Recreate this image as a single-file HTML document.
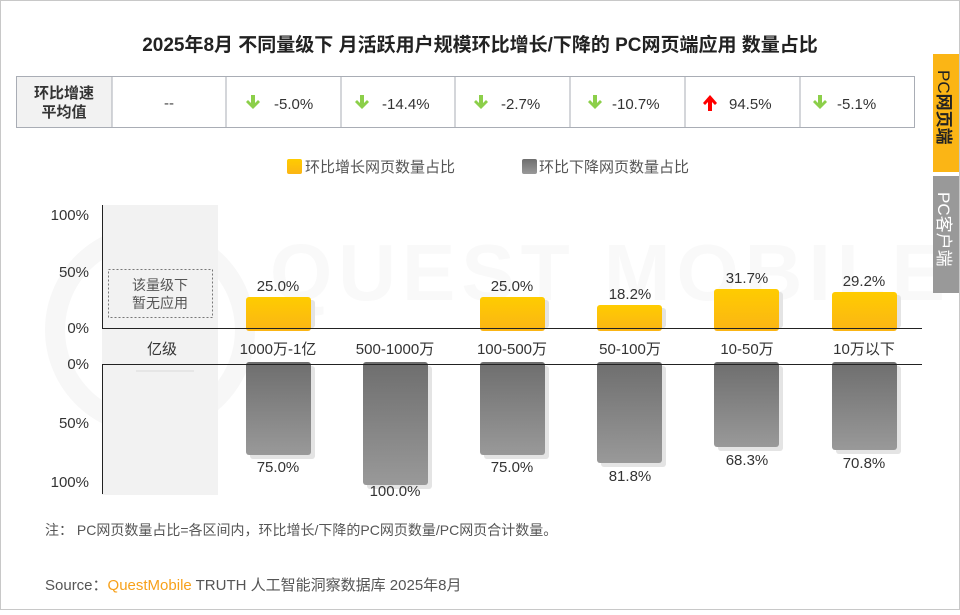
<!DOCTYPE html>
<html><head><meta charset="utf-8"><style>
body{margin:0;width:960px;height:610px;overflow:hidden;background:#fff;font-family:"Liberation Sans","Noto Sans CJK SC",sans-serif;}
</style></head><body>
<svg width="960" height="610" xmlns="http://www.w3.org/2000/svg" font-family="Liberation Sans, Noto Sans CJK SC, sans-serif">
<defs>
<linearGradient id="y" x1="0" y1="0" x2="0" y2="1"><stop offset="0" stop-color="#ffcc00"/><stop offset="1" stop-color="#fbb515"/></linearGradient>
<linearGradient id="g" x1="0" y1="0" x2="0" y2="1"><stop offset="0" stop-color="#6e6e6e"/><stop offset="1" stop-color="#999"/></linearGradient>
</defs>
<rect x="0.5" y="0.5" width="959" height="609" fill="#fff" stroke="#c8c8c8"/>
<!-- watermark -->
<g fill="none" stroke="#f7f7f7" stroke-width="20">
<circle cx="150" cy="330" r="95"/>
</g>
<text x="270" y="300" font-size="80" fill="#f9f9f9" font-weight="bold" letter-spacing="6">QUEST MOBILE</text>
<text x="480" y="51" font-size="19" text-anchor="middle" fill="#222" font-weight="bold">2025年8月 不同量级下 月活跃用户规模环比增长/下降的 PC网页端应用 数量占比</text>
<!-- table -->
<rect x="16" y="76" width="96" height="51" fill="#f2f2f2"/>
<rect x="16.5" y="76.5" width="898" height="51" fill="none" stroke="#a9adb5"/>
<g stroke="#a9adb5"><line x1="112" y1="76" x2="112" y2="127"/><line x1="226" y1="76" x2="226" y2="127"/><line x1="341" y1="76" x2="341" y2="127"/><line x1="455" y1="76" x2="455" y2="127"/><line x1="570" y1="76" x2="570" y2="127"/><line x1="685" y1="76" x2="685" y2="127"/><line x1="800" y1="76" x2="800" y2="127"/></g>
<text x="64" y="98" font-size="15" text-anchor="middle" fill="#333" font-weight="bold">环比增速</text>
<text x="64" y="117" font-size="15" text-anchor="middle" fill="#333" font-weight="bold">平均值</text>
<text x="169" y="108" font-size="15" text-anchor="middle" fill="#444">--</text>
<g font-size="15" fill="#333">
<text x="274" y="109">-5.0%</text><text x="382" y="109">-14.4%</text><text x="501" y="109">-2.7%</text><text x="612" y="109">-10.7%</text><text x="729" y="109">94.5%</text><text x="837" y="109">-5.1%</text>
</g>
<g fill="#8ccf4a">
<path d="M251 95h4v8l3-3 2 2-7 7-7-7 2-2 3 3z"/><path d="M360 95h4v8l3-3 2 2-7 7-7-7 2-2 3 3z"/><path d="M479 95h4v8l3-3 2 2-7 7-7-7 2-2 3 3z"/><path d="M593 95h4v8l3-3 2 2-7 7-7-7 2-2 3 3z"/><path d="M818 95h4v8l3-3 2 2-7 7-7-7 2-2 3 3z"/>
</g>
<path d="M708 111h4v-9l3 3 2-2-7-8-7 8 2 2 3-3z" fill="#f00"/>
<!-- legend -->
<rect x="287" y="159" width="15" height="15" rx="2" fill="url(#y)"/>
<text x="305" y="172" font-size="15" fill="#555">环比增长网页数量占比</text>
<rect x="522" y="159" width="15" height="15" rx="2" fill="url(#g)"/>
<text x="539" y="172" font-size="15" fill="#555">环比下降网页数量占比</text>
<!-- side tabs -->
<rect x="933" y="54" width="26" height="118" fill="#fbb515"/>
<rect x="933" y="176" width="26" height="117" fill="#999"/>
<text font-size="17" fill="#222" transform="translate(938,70) rotate(90)">PC<tspan font-weight="bold">网页端</tspan></text>
<text font-size="17" fill="#fff" transform="translate(938,192) rotate(90)">PC客户端</text>
<!-- shaded col -->
<rect x="102" y="205" width="116" height="290" fill="#f2f2f2"/>
<rect x="108.5" y="269.5" width="104" height="48" fill="none" stroke="#777" stroke-dasharray="2,2"/>
<text x="160" y="290" font-size="14" text-anchor="middle" fill="#555">该量级下</text>
<text x="160" y="308" font-size="14" text-anchor="middle" fill="#555">暂无应用</text>
<!-- axes -->
<g font-size="15" fill="#333" text-anchor="end">
<text x="89" y="220">100%</text><text x="89" y="277">50%</text><text x="89" y="333">0%</text>
<text x="89" y="369">0%</text><text x="89" y="428">50%</text><text x="89" y="487">100%</text>
</g>
<line x1="102.5" y1="205" x2="102.5" y2="329" stroke="#222"/>
<line x1="102" y1="328.5" x2="922" y2="328.5" stroke="#222"/>
<line x1="102.5" y1="364" x2="102.5" y2="494" stroke="#222"/>
<line x1="136" y1="371" x2="194" y2="371" stroke="#e6e6e6" stroke-width="2"/>
<!-- category labels -->
<g font-size="15" fill="#333" text-anchor="middle">
<text x="162" y="354">亿级</text><text x="278" y="354">1000万-1亿</text><text x="395" y="354">500-1000万</text><text x="512" y="354">100-500万</text><text x="630" y="354">50-100万</text><text x="747" y="354">10-50万</text><text x="864" y="354">10万以下</text>
</g>
<!-- shadows -->
<g fill="#e4e4e4">
<rect x="250" y="300" width="65" height="28" rx="3"/><rect x="484" y="300" width="65" height="28" rx="3"/><rect x="601" y="308" width="65" height="20" rx="3"/><rect x="718" y="292" width="65" height="36" rx="3"/><rect x="836" y="295" width="65" height="33" rx="3"/>
<rect x="250" y="366" width="65" height="93" rx="3"/><rect x="367" y="366" width="65" height="123" rx="3"/><rect x="484" y="366" width="65" height="93" rx="3"/><rect x="601" y="366" width="65" height="101" rx="3"/><rect x="718" y="366" width="65" height="85" rx="3"/><rect x="836" y="366" width="65" height="88" rx="3"/>
</g>
<!-- up bars -->
<g fill="url(#y)">
<rect x="246" y="297" width="65" height="34" rx="3"/>
<rect x="480" y="297" width="65" height="34" rx="3"/>
<rect x="597" y="305" width="65" height="26" rx="3"/>
<rect x="714" y="289" width="65" height="42" rx="3"/>
<rect x="832" y="292" width="65" height="39" rx="3"/>
</g>
<line x1="102" y1="328.5" x2="922" y2="328.5" stroke="#222"/>
<g font-size="15" fill="#333" text-anchor="middle">
<text x="278" y="291">25.0%</text><text x="512" y="291">25.0%</text><text x="630" y="299">18.2%</text><text x="747" y="283">31.7%</text><text x="864" y="286">29.2%</text>
</g>
<!-- down bars -->
<g fill="url(#g)">
<rect x="246" y="362" width="65" height="93" rx="3"/>
<rect x="363" y="362" width="65" height="123" rx="3"/>
<rect x="480" y="362" width="65" height="93" rx="3"/>
<rect x="597" y="362" width="65" height="101" rx="3"/>
<rect x="714" y="362" width="65" height="85" rx="3"/>
<rect x="832" y="362" width="65" height="88" rx="3"/>
</g>
<line x1="102" y1="364.5" x2="922" y2="364.5" stroke="#222"/>
<g font-size="15" fill="#333" text-anchor="middle">
<text x="278" y="472">75.0%</text><text x="395" y="496">100.0%</text><text x="512" y="472">75.0%</text><text x="630" y="481">81.8%</text><text x="747" y="465">68.3%</text><text x="864" y="468">70.8%</text>
</g>
<!-- footer -->
<text x="45" y="535" font-size="14" fill="#555">注：  PC网页数量占比=各区间内，环比增长/下降的PC网页数量/PC网页合计数量。</text>
<text x="45" y="590" font-size="15" fill="#555">Source：<tspan fill="#f7a11a">QuestMobile</tspan> TRUTH 人工智能洞察数据库 2025年8月</text>
</svg>
</body></html>
